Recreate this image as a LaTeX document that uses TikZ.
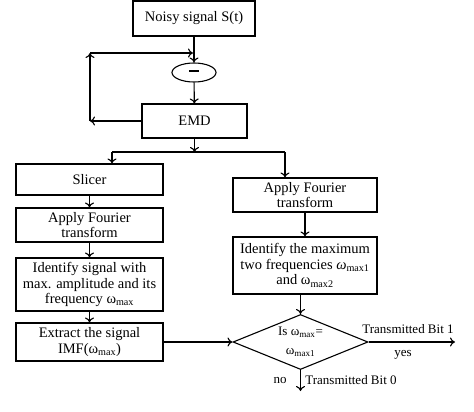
\documentclass[tikz,border=0pt]{standalone}
\usepackage{fontspec}
\setmainfont{Liberation Serif}
\usetikzlibrary{shapes.geometric,arrows.meta}

\begin{document}
\begin{tikzpicture}[x=1pt,y=-1pt,line width=1.1pt,>={To[length=5pt,width=9pt]},
  caja/.style={draw,rectangle,inner sep=1pt,align=center,font=\fontsize{14.5}{15.5}\selectfont},
  rombo/.style={draw,diamond,aspect=2.45,inner sep=0pt,align=center,font=\fontsize{13}{14}\selectfont},
  rotulo/.style={inner sep=1pt,font=\fontsize{13}{14}\selectfont}]
\useasboundingbox (0,0) rectangle (474,412);

% entrada y resta
\node[caja,minimum width=122,minimum height=35] (ruido) at (194,18.5) {Noisy signal S(t)};
\node[draw,ellipse,minimum width=44,minimum height=19,inner sep=0pt] (resta) at (194,72.5) {\rule[2.5pt]{10pt}{1.8pt}};
\node[caja,minimum width=105,minimum height=34] (emd) at (194.5,121) {EMD};
\draw[->] (ruido) -- (resta);
\draw[->] (resta) -- (emd);

% lazo de realimentacion
\coordinate (lazoA) at (90,121);
\coordinate (lazoB) at (90,53);
\coordinate (lazoC) at (193,53);
\draw[->] (emd.west) -- (lazoA);
\draw[->] (lazoA) -- (lazoB);
\draw[->] (lazoB) -- (lazoC);

% bifurcacion
\coordinate (rama) at (194.5,152);
\coordinate (ramaI) at (112,152);
\coordinate (ramaD) at (285,152);
\draw[->] (emd) -- (rama);
\draw (ramaI) -- (ramaD);

% rama izquierda
\node[caja,minimum width=147,minimum height=31] (slicer) at (89.5,179.5) {Slicer};
\node[caja,minimum width=147,minimum height=34] (fourierI) at (89.5,225) {Apply Fourier\\transform};
\node[caja,minimum width=147,minimum height=53] (identI) at (89.5,284.5) {Identify signal with\\max. amplitude and its\\frequency ω\textsubscript{max}};
\node[caja,minimum width=147,minimum height=38] (extrae) at (89.5,342) {Extract the signal\\IMF(ω\textsubscript{max})};
\draw[->] (ramaI) -- (ramaI |- slicer.north);
\draw[->] (slicer) -- (fourierI);
\draw[->] (fourierI) -- (identI);
\draw[->] (identI) -- (extrae);

% rama derecha
\node[caja,minimum width=144,minimum height=34] (fourierD) at (305,195) {Apply Fourier\\transform};
\node[caja,minimum width=144,minimum height=57] (identD) at (305,265.5) {Identify the maximum\\two frequencies \textit{ω}\textsubscript{max1}\\and ω\textsubscript{max2}};
\draw[->] (ramaD) -- (ramaD |- fourierD.north);
\draw[->] (fourierD) -- (identD);

% decision
\node[rombo,minimum width=135,minimum height=55] (decide) at (300.5,342) {Is ω\textsubscript{max}=\\[5pt]ω\textsubscript{max1}};
\draw[->] (identD.south -| decide.north) -- (decide.north);
\draw[->] (extrae) -- (decide);

% salidas
\coordinate (bit1) at (455,342);
\coordinate (bit0) at (300.5,391);
\draw[->] (decide.east) -- (bit1);
\draw[->] (decide.south) -- (bit0);
\node[rotulo] (si) at (403,355) {yes};
\node[rotulo] (txt1) at (408,329) {Transmitted Bit 1};
\node[rotulo] (no) at (280,380) {no};
\node[rotulo] (txt0) at (351,380) {Transmitted Bit 0};
\end{tikzpicture}
\end{document}
